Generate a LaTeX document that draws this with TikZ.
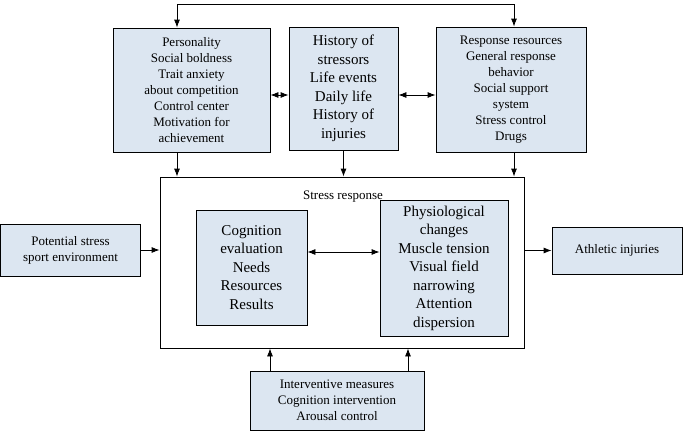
\documentclass[tikz,border=0pt]{standalone}
\usepackage{fontspec}
\setmainfont{Liberation Serif}
\usetikzlibrary{arrows.meta}
\begin{document}
\begin{tikzpicture}[x=1pt,y=-1pt,
 bx/.style={draw,line width=0.8pt,align=center,inner sep=0pt},
 sm/.style={font=\fontsize{13}{16}\selectfont},
 lg/.style={font=\fontsize{15}{18.5}\selectfont},
 ar/.style={-{Latex[length=8pt,width=6pt]},line width=0.8pt},
 dar/.style={{Latex[length=8pt,width=6pt]}-{Latex[length=8pt,width=6pt]},line width=0.8pt}]
\useasboundingbox (0,0) rectangle (685,434);
\definecolor{bf}{HTML}{DCE6F1}
\tikzset{bx/.append style={fill=bf}}
\node[bx,sm,minimum width=157,minimum height=124] (pers) at (191.5,90) {Personality\\Social boldness\\Trait anxiety\\about competition\\Control center\\Motivation for\\achievement};
\node[bx,lg,minimum width=109,minimum height=123] (hist) at (343.5,88.5) {History of\\stressors\\Life events\\Daily life\\History of\\injuries};
\node[bx,sm,minimum width=150,minimum height=125] (resp) at (511,89.5) {Response resources\\General response\\behavior\\Social support\\system\\Stress control\\Drugs};
\node[draw,line width=0.8pt,minimum width=364,minimum height=171] (sr) at (342,262.5) {};
\node[sm] (srl) at (343,197) {Stress response};
\node[bx,lg,minimum width=111,minimum height=115] (cog) at (251.5,267.5) {Cognition\\evaluation\\Needs\\Resources\\Results};
\node[bx,lg,minimum width=128,minimum height=136] (phys) at (444,268) {Physiological\\changes\\Muscle tension\\Visual field\\narrowing\\Attention\\dispersion};
\node[bx,sm,minimum width=140,minimum height=52] (pot) at (70.5,250) {Potential stress\\sport environment};
\node[bx,sm,minimum width=130,minimum height=47] (ath) at (617,250.5) {Athletic injuries};
\node[bx,sm,minimum width=174,minimum height=59] (int) at (337,400.5) {Interventive measures\\Cognition intervention\\Arousal control};
\coordinate (t1) at (177,4); \coordinate (t2) at (514,4);
\draw[ar] (t1) -- (pers.north -| t1);
\draw[ar] (t2) -- (resp.north -| t2);
\draw[line width=0.8pt] (t1) -- (t2);
\draw[dar] (pers.east |- 0,95) -- (hist.west |- 0,95);
\draw[dar] (hist.east |- 0,95) -- (resp.west |- 0,95);
\draw[ar] (pers.south -| 177,0) -- (sr.north -| 177,0);
\draw[ar] (hist.south) -- (sr.north -| hist.south);
\draw[ar] (resp.south -| 514,0) -- (sr.north -| 514,0);
\draw[ar] (pot.east) -- (sr.west |- pot.east);
\draw[ar] (sr.east |- ath.west) -- (ath.west);
\draw[dar] (cog.east |- 0,252) -- (phys.west |- 0,252);
\draw[ar] (int.north -| 270,0) -- (sr.south -| 270,0);
\draw[ar] (int.north -| 408,0) -- (sr.south -| 408,0);
\end{tikzpicture}
\end{document}
